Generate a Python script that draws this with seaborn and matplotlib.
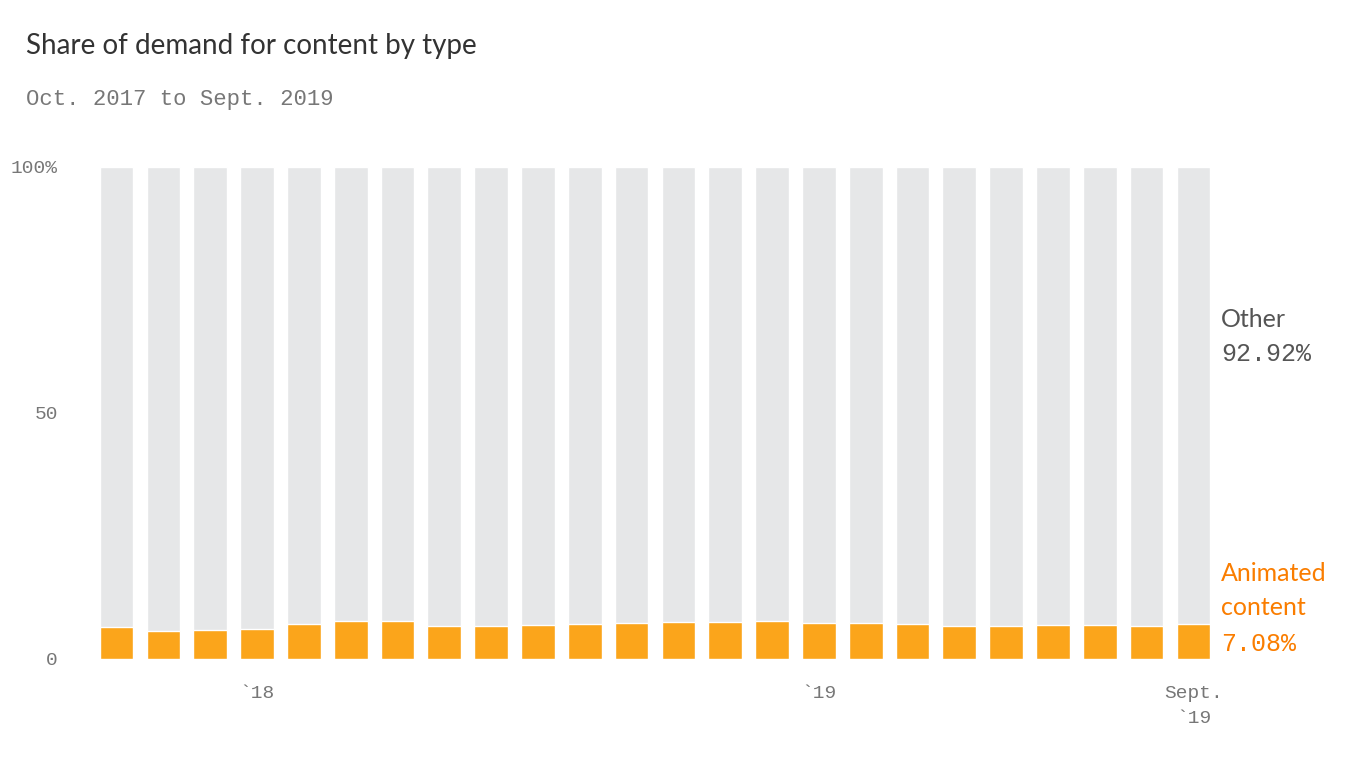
import matplotlib
matplotlib.use('Agg')
import matplotlib.pyplot as plt
import seaborn as sns
import pandas as pd

months = pd.date_range('2017-10-01', '2019-09-01', freq='MS').strftime('%Y-%m').tolist()
animated = [6.5, 5.7, 5.9, 6.1, 7.1, 7.7, 7.7, 6.7, 6.7, 6.9, 7.1, 7.3,
            7.5, 7.5, 7.7, 7.3, 7.3, 7.1, 6.7, 6.7, 6.9, 6.9, 6.7, 7.08]
total = [100] * len(months)
tick_pos = [3, 15, 23]
tick_labels = ['`18', '`19', 'Sept.\n`19']

df = pd.DataFrame({'month': months, 'animated': animated, 'total': total})

sns.set_style('white')
mono = 'Liberation Mono'
sans = 'Lato'

fig = plt.figure(figsize=(13.66, 7.68), dpi=100)
ax = fig.add_axes([0.073, 0.142, 0.813, 0.641])

sns.barplot(data=df, x='month', y='total', color='#e6e7e8', width=0.72,
            saturation=1, ax=ax)
sns.barplot(data=df, x='month', y='animated', color='#fba51b', width=0.72,
            saturation=1, ax=ax)

ax.set_xlim(-0.36, len(months) - 0.64)
ax.set_ylim(0, 100)
ax.set_xlabel('')
ax.set_ylabel('')
for s in ax.spines.values():
    s.set_visible(False)

ax.set_yticks([0, 50, 100])
ax.set_yticklabels(['0', '50', '100%'], family=mono, fontsize=14, color='#777777')
ax.tick_params(axis='y', length=26, width=0.8, color='#cccccc', pad=4)
ax.set_xticks(tick_pos)
ax.set_xticklabels(tick_labels, family=mono, fontsize=14, color='#777777', linespacing=1.6)
ax.tick_params(axis='x', length=26, width=0.8, color='#cccccc', pad=6, direction='inout')

fig.text(0.019, 0.94, 'Share of demand for content by type', family=sans,
         fontsize=20, color='#333333', va='center')
fig.text(0.019, 0.87, 'Oct. 2017 to Sept. 2019', family=mono,
         fontsize=16, color='#777777', va='center')

fig.text(0.894, 0.584, 'Other', family=sans, fontsize=18, color='#555555', va='center')
fig.text(0.894, 0.539, '92.92%', family=mono, fontsize=18, color='#555555', va='center')
fig.text(0.894, 0.253, 'Animated', family=sans, fontsize=18, color='#fa7d00', va='center')
fig.text(0.894, 0.209, 'content', family=sans, fontsize=18, color='#fa7d00', va='center')
fig.text(0.894, 0.161, '7.08%', family=mono, fontsize=18, color='#fa7d00', va='center')

fig.savefig('out.png', dpi=100)
